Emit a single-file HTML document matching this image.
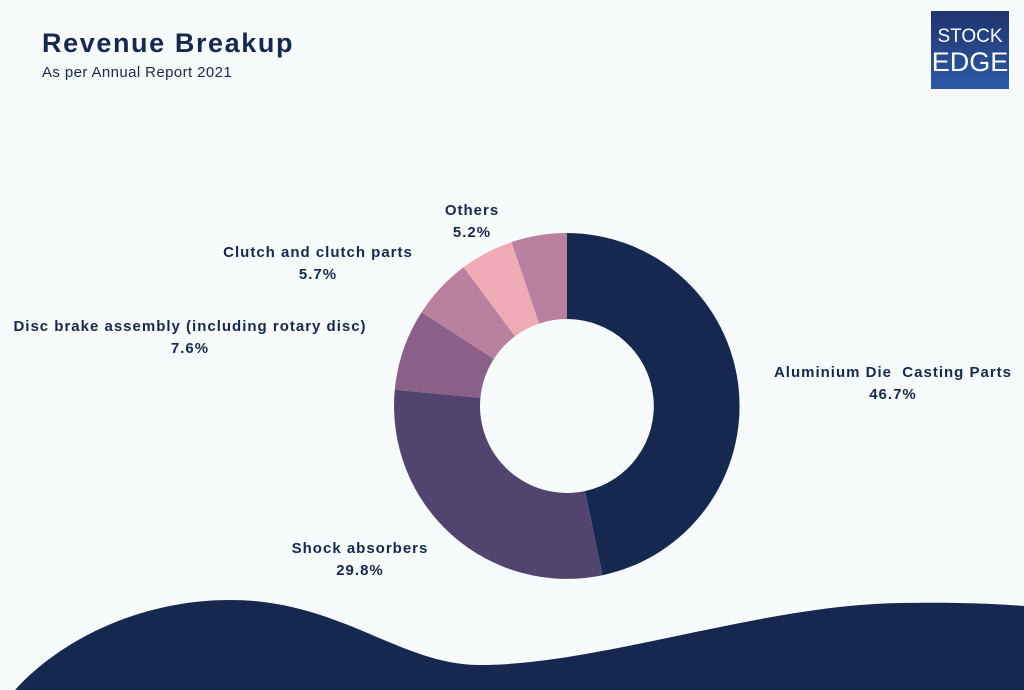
<!DOCTYPE html>
<html><head><meta charset="utf-8"><style>
body{margin:0;width:1024px;height:690px;background:#f8fbfb;overflow:hidden;font-family:"Liberation Sans",sans-serif;color:#16284f}
.t{position:absolute;font-weight:bold;font-size:15px;letter-spacing:1px;text-align:center;line-height:22px;white-space:nowrap}
</style></head><body>
<div style="position:absolute;left:42px;top:28px;font-size:27px;font-weight:bold;letter-spacing:1.6px">Revenue Breakup</div>
<div style="position:absolute;left:42px;top:64px;font-size:15px;letter-spacing:0.4px">As per Annual Report 2021</div>
<div style="position:absolute;left:931px;top:11px;width:78px;height:78px;background:linear-gradient(#1f3470,#2d5aa6);color:#fff;text-align:center;font-size:19px;line-height:20px;padding-top:16px;box-sizing:border-box">STOCK<br><span style="font-size:27px;line-height:30px">EDGE</span></div>
<svg width="1024" height="690" style="position:absolute;left:0;top:0">
<path d="M567,233 A173,173 0 0 1 602.6,575.2 L584.9,491.1 A87,87 0 0 0 567,319Z" fill="#16284f"/>
<path d="M602.6,575.2 A173,173 0 0 1 394.8,389.7 L480.4,397.8 A87,87 0 0 0 584.9,491.1Z" fill="#514570"/>
<path d="M394.8,389.7 A173,173 0 0 1 421.6,312.3 L493.9,358.9 A87,87 0 0 0 480.4,397.8Z" fill="#8a6088"/>
<path d="M421.6,312.3 A173,173 0 0 1 463.6,267.3 L515,336.2 A87,87 0 0 0 493.9,358.9Z" fill="#ba809f"/>
<path d="M463.6,267.3 A173,173 0 0 1 511.5,242.1 L539.1,323.6 A87,87 0 0 0 515,336.2Z" fill="#eeaab5"/>
<path d="M511.5,242.1 A173,173 0 0 1 567,233 L567,319 A87,87 0 0 0 539.1,323.6Z" fill="#ba809f"/>
<path d="M15,690 C60,640 140,600 230,600 C340,600 400,665 480,665 C600,665 760,605 900,603 C960,602 1000,604 1024,606 L1024,690Z" fill="#16284f"/>
</svg>
<div class="t" style="left:772px;top:362px;width:242px">Aluminium Die&nbsp; Casting Parts<br>46.7%</div>
<div class="t" style="left:270px;top:538px;width:180px">Shock absorbers<br>29.8%</div>
<div class="t" style="left:0px;top:316px;width:380px">Disc brake assembly (including rotary disc)<br>7.6%</div>
<div class="t" style="left:200px;top:242px;width:236px">Clutch and clutch parts<br>5.7%</div>
<div class="t" style="left:417px;top:200px;width:110px">Others<br>5.2%</div>
</body></html>
